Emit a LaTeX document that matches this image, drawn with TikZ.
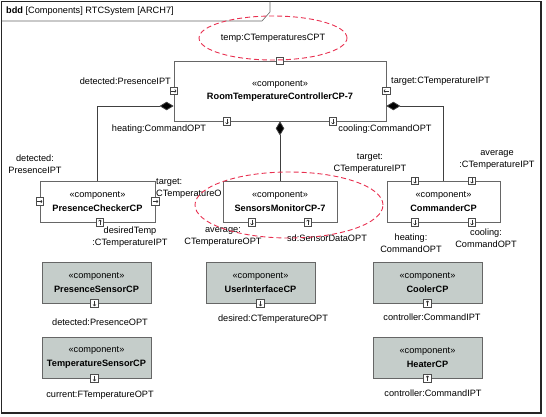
\documentclass[tikz,border=0pt]{standalone}
\usepackage{fontspec}
\setmainfont{Liberation Sans}
\usetikzlibrary{arrows.meta,calc}
\definecolor{greyfill}{RGB}{197,205,202}
\definecolor{markred}{RGB}{232,48,80}
\begin{document}
\begin{tikzpicture}[x=1pt,y=-1pt,
  font=\fontsize{9.2}{12}\selectfont,
  comp/.style={draw=black!60, fill=white, line width=0.8pt, align=center, inner sep=0pt,
    font=\fontsize{9.2}{13.5}\selectfont},
  compw/.style={comp, minimum height=41pt},
  compg/.style={comp, fill=greyfill, minimum width=109pt, minimum height=41pt},
  port/.style={draw=black!70, fill=white, minimum size=7.5pt, inner sep=0pt, line width=0.6pt},
  parrow/.style={line width=0.6pt, draw=black!80, -{To[length=1.8pt,width=3.4pt,line width=0.6pt]}},
  pd/.style={port, path picture={\draw[parrow] ([yshift=-1pt]path picture bounding box.north) -- ([yshift=1pt]path picture bounding box.south);}},
  pu/.style={port, path picture={\draw[parrow] ([yshift=1pt]path picture bounding box.south) -- ([yshift=-1pt]path picture bounding box.north);}},
  pr/.style={port, path picture={\draw[parrow] ([xshift=1pt]path picture bounding box.west) -- ([xshift=-1pt]path picture bounding box.east);}},
  pl/.style={port, path picture={\draw[parrow] ([xshift=-1pt]path picture bounding box.east) -- ([xshift=1pt]path picture bounding box.west);}},
  conn/.style={draw=black!75, line width=0.8pt},
  comptip/.style={{Diamond[length=14pt,width=8.5pt,fill=black]}-},
  lbl/.style={inner sep=0pt, align=center},
  hilite/.style={draw=markred, dash pattern=on 5pt off 3pt, line width=0.9pt}
]
\useasboundingbox (0,0) rectangle (546,416);
% frame
\draw[draw=black!85, line width=1.6pt] (1.5,1.5) rectangle (541,413);
\draw[draw=black!60, line width=0.6pt] (1.5,21) -- (262,21) -- (270,12) -- (270,1.5);
\node[lbl, anchor=west] (title) at (6,11) {\textbf{bdd} [Components] RTCSystem [ARCH7]};

% components
\node[comp, minimum width=212pt, minimum height=60pt] (rtc) at (280,91) {«component»\\\textbf{RoomTemperatureControllerCP-7}};
\node[compw, minimum width=115pt] (pcc) at (97.5,201.5) {«component»\\\textbf{PresenceCheckerCP}};
\node[lbl, anchor=west, align=left] (pcctgt) at (156,188) {target:\\CTemperatureO};
\node[compw, minimum width=114pt] (smc) at (280,201.5) {«component»\\\textbf{SensorsMonitorCP-7}};
\node[compw, minimum width=113pt] (cmd) at (443.5,201.5) {«component»\\\textbf{CommanderCP}};

\node[compg] (psc) at (96.5,282.5) {«component»\\\textbf{PresenceSensorCP}};
\node[compg] (uic) at (260.5,282.5) {«component»\\\textbf{UserInterfaceCP}};
\node[compg] (coc) at (427.5,282.5) {«component»\\\textbf{CoolerCP}};
\node[compg] (tsc) at (96.5,357.5) {«component»\\\textbf{TemperatureSensorCP}};
\node[compg] (htc) at (427.5,357.5) {«component»\\\textbf{HeaterCP}};

% connectors (composition)
\draw[conn, comptip] ([yshift=-15pt]rtc.west) -| (pcc.north);
\draw[conn, comptip] ([yshift=-15pt]rtc.east) -| (cmd.north);
\draw[conn, comptip] (rtc.south) -- (smc.north);

% ports
\node[port] (rtcT) at (rtc.north) {};
\node[pr] (rtcL) at (rtc.west) {};
\node[pl] (rtcR) at (rtc.east) {};
\node[pd] (rtcB1) at ([xshift=-53pt]rtc.south) {};
\node[pd] (rtcB2) at ([xshift=53pt]rtc.south) {};
\node[pr] (pccL) at (pcc.west) {};
\node[pr] (pccR) at (pcc.east) {};
\node[pu] (pccB) at ([xshift=2.5pt]pcc.south) {};
\node[pd] (smcB1) at ([xshift=-28pt]smc.south) {};
\node[pu] (smcB2) at ([xshift=28pt]smc.south) {};
\node[pd] (cmdT1) at ([xshift=-28.5pt]cmd.north) {};
\node[pd] (cmdT2) at ([xshift=28.5pt]cmd.north) {};
\node[pd] (cmdB1) at ([xshift=-28.5pt]cmd.south) {};
\node[pd] (cmdB2) at ([xshift=28.5pt]cmd.south) {};
\node[pd] (pscB) at ([xshift=-2pt]psc.south) {};
\node[pd] (uicB) at (uic.south) {};
\node[pu] (cocB) at (coc.south) {};
\node[pd] (tscB) at ([xshift=-2pt]tsc.south) {};
\node[pu] (htcB) at (htc.south) {};

% labels
\node[lbl] (ltemp) at (273,38) {temp:CTemperaturesCPT};
\node[lbl, anchor=east] (ldet) at (171,81) {detected:PresenceIPT};
\node[lbl, anchor=west] (ltgt) at (391,81) {target:CTemperatureIPT};
\node[lbl] (lheat) at (159,129) {heating:CommandOPT};
\node[lbl] (lcool) at (385,129) {cooling:CommandOPT};
\node[lbl] (lpdet) at (35,164) {detected:\\PresenceIPT};
\node[lbl] (lpdes) at (130,237) {desiredTemp\\:CTemperatureIPT};
\node[lbl] (lsavg) at (223,237) {average:\\CTemperatureOPT};
\node[lbl] (lssd) at (327,238) {sd:SensorDataOPT};
\node[lbl] (lctgt) at (370,163) {target:\\CTemperatureIPT};
\node[lbl] (lcavg) at (497,160) {average\\:CTemperatureIPT};
\node[lbl] (lcheat) at (411,243) {heating:\\CommandOPT};
\node[lbl] (lccool) at (486,238) {cooling:\\CommandOPT};
\node[lbl] (lpsc) at (100,322) {detected:PresenceOPT};
\node[lbl] (luic) at (273,319) {desired:CTemperatureOPT};
\node[lbl] (lcoc) at (432,317) {controller:CommandIPT};
\node[lbl] (ltsc) at (100,395) {current:FTemperatureOPT};
\node[lbl] (lhtc) at (433,393) {controller:CommandIPT};

% highlight marks
\draw[hilite] (273,38) ellipse [x radius=74pt, y radius=22pt];
\draw[hilite] (289,205) ellipse [x radius=94pt, y radius=33pt];
\end{tikzpicture}
\end{document}
